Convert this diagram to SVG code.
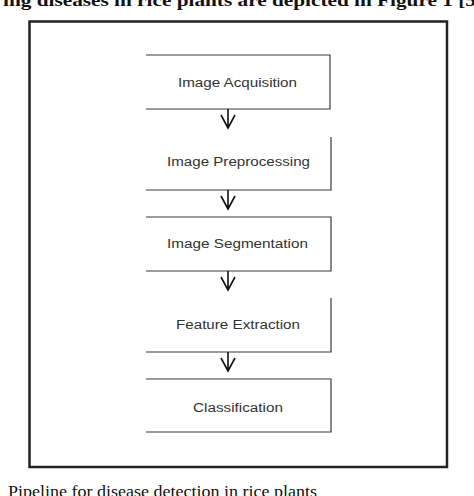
<svg xmlns="http://www.w3.org/2000/svg" width="474" height="496" viewBox="0 0 474 496">
<style>
.box{fill:none;stroke:#3a3a3a;stroke-width:1.2}
.lbl{font-family:"Liberation Sans",Arial,sans-serif;font-size:12px;fill:#333;text-anchor:start}
.arr{stroke:#111;stroke-width:1.6;fill:none}
.serif{font-family:"Liberation Serif","Times New Roman",serif;fill:#111}
</style>
<rect width="474" height="496" fill="#fff"/>
<text class="serif" x="3" y="6" font-size="17" font-weight="bold" textLength="480" lengthAdjust="spacingAndGlyphs">ing diseases in rice plants are depicted in Figure 1 [5]</text>
<rect id="frame" x="29.5" y="21.5" width="417.5" height="445.5" fill="none" stroke="#222" stroke-width="2.5"/>
<g id="n1">
<path class="box" d="M146 55H330V109H146"/>
<text class="lbl" x="178" y="87" textLength="119" lengthAdjust="spacingAndGlyphs">Image Acquisition</text>
</g>
<g id="n2">
<path class="box" d="M331 137V190H146"/>
<text class="lbl" x="167" y="166" textLength="143" lengthAdjust="spacingAndGlyphs">Image Preprocessing</text>
</g>
<g id="n3">
<path class="box" d="M146 217H331V271H146"/>
<text class="lbl" x="167" y="248" textLength="141" lengthAdjust="spacingAndGlyphs">Image Segmentation</text>
</g>
<g id="n4">
<path class="box" d="M331 298V352H146"/>
<text class="lbl" x="176" y="329" textLength="124" lengthAdjust="spacingAndGlyphs">Feature Extraction</text>
</g>
<g id="n5">
<path class="box" d="M146 379H331V432H146"/>
<text class="lbl" x="193" y="412" textLength="90" lengthAdjust="spacingAndGlyphs">Classification</text>
</g>
<g id="connectors">
<path class="arr" d="M228 109V128M221 115L228 128L235 115"/>
<path class="arr" d="M228 190V209M221 196L228 209L235 196"/>
<path class="arr" d="M228 271V290M221 277L228 290L235 277"/>
<path class="arr" d="M228 352V371M221 358L228 371L235 358"/>
</g>
<text class="serif" x="8" y="497" font-size="16" textLength="309" lengthAdjust="spacingAndGlyphs">Pipeline for disease detection in rice plants</text>
</svg>
